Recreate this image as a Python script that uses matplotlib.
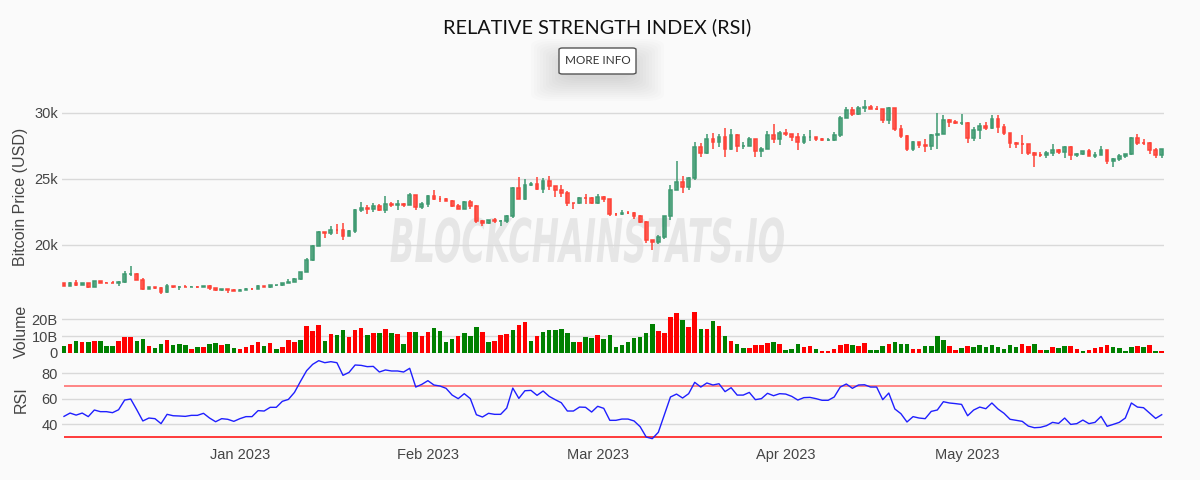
import matplotlib
matplotlib.use("Agg")
import matplotlib.pyplot as plt
import matplotlib.dates as mdates
import matplotlib.patheffects as pe
from matplotlib.patches import FancyBboxPatch
from matplotlib.transforms import Affine2D
import pandas as pd

# --- DATA (daily BTC candles, Dec 3 2022 - Jun 2 2023) ---
dates = pd.date_range("2022-12-03", "2023-06-02", freq="D")

opens = [
    17089, 16908, 17131, 16975, 17090, 16848, 17233, 17133, 17128, 17104, 17206, 17782, 17816, 17364, 16648,
    16801, 16738, 16439, 16907, 16818, 16830, 16796, 16847, 16841, 16919, 16717, 16552, 16642, 16603,
    16547, 16625, 16688, 16680, 16863, 16836, 16951, 16955, 17091, 17196, 17446, 17934, 18869, 19909, 20976,
    20880, 21170, 21161, 20688, 21086, 22676, 22777, 22721, 22934, 22636, 23117, 23032, 23079, 23031, 23775, 22840,
    23139, 23723, 23472, 23449, 23332, 22955, 22760, 23264, 22939, 21819, 21651, 21870, 21788, 21808, 22220,
    24325, 23517, 24569, 24631, 24272, 24838, 24440, 24188, 23947, 23199, 23175, 23562, 23522,
    23148, 23646, 23476, 22362, 22354, 22436, 22430, 22219, 21718, 20363, 20187, 20633, 22163, 24197, 24747,
    24375, 25052, 27423, 26966, 28038, 27767, 28175, 27307, 28333, 27493, 27494, 27994, 27139, 27268, 28348, 28033,
    28478, 28411, 28199, 27790, 28168, 28177, 28044, 27925, 27947, 28333, 29652, 30235, 29892, 30399, 30485,
    30318, 30315, 29446, 30397, 28823, 28245, 27276, 27817, 27591, 27525, 28307, 28422, 29474, 29340, 29248,
    29268, 28091, 28680, 29031, 28848, 29534, 28904, 28454, 27694, 27658, 27621, 27000, 26804, 26785, 26931,
    27192, 27036, 27399, 26833, 26890, 27129, 26754, 26851, 27225, 26334, 26476, 26720, 26868, 28085, 27745, 27702,
    27219, 26819,
]
closes = [
    16908, 17131, 16975, 17090, 16848, 17233, 17133, 17128, 17104, 17206, 17782, 17816, 17364, 16648, 16801,
    16738, 16439, 16907, 16818, 16830, 16796, 16847, 16841, 16919, 16717, 16552, 16642, 16603, 16547,
    16625, 16688, 16680, 16863, 16836, 16951, 16955, 17091, 17196, 17446, 17934, 18869, 19909, 20976, 20880,
    21170, 21161, 20688, 21086, 22676, 22777, 22721, 22934, 22636, 23117, 23032, 23079, 23031, 23775, 22840, 23139,
    23723, 23472, 23449, 23332, 22955, 22760, 23264, 22939, 21819, 21651, 21870, 21788, 21808, 22220, 24325,
    23517, 24569, 24631, 24272, 24838, 24440, 24188, 23947, 23199, 23175, 23562, 23522, 23148,
    23646, 23476, 22362, 22354, 22436, 22430, 22219, 21718, 20363, 20187, 20633, 22163, 24197, 24747, 24375,
    25052, 27423, 26966, 28038, 27767, 28175, 27307, 28333, 27493, 27494, 27994, 27139, 27268, 28348, 28033, 28478,
    28411, 28199, 27790, 28168, 28177, 28044, 27925, 27947, 28333, 29652, 30235, 29892, 30399, 30485, 30318,
    30315, 29446, 30397, 28823, 28245, 27276, 27817, 27591, 27525, 28307, 28422, 29474, 29340, 29248, 29268,
    28091, 28680, 29031, 28848, 29534, 28904, 28454, 27694, 27658, 27621, 27000, 26804, 26785, 26931, 27192,
    27036, 27399, 26833, 26890, 27129, 26754, 26851, 27225, 26334, 26476, 26720, 26868, 28085, 27745, 27702, 27219,
    26819, 27249,
]
highs = [
    17116, 17199, 17379, 17092, 17130, 17268, 17299, 17227, 17266, 17242, 18001, 18387, 17847, 17525, 16830,
    16819, 16794, 17012, 16917, 16860, 16954, 16864, 16858, 16920, 16963, 16773, 16652, 16643, 16628,
    16630, 16759, 16760, 16965, 16884, 16991, 16975, 17091, 17389, 17484, 17934, 19000, 19964, 21075, 20993,
    21438, 21599, 21650, 21163, 22692, 23282, 23056, 23165, 23127, 23722, 23237, 23435, 23166, 23919, 23789, 23255,
    23764, 24167, 23673, 23556, 23423, 23125, 23310, 23390, 23009, 21884, 21891, 22060, 21883, 22293, 24380,
    25134, 24968, 24750, 25127, 25047, 25250, 24453, 24580, 24110, 23201, 23654, 23857, 23597,
    23880, 23739, 23479, 22406, 22613, 22584, 22527, 22268, 21810, 20370, 20792, 22185, 24550, 26387, 25195,
    25166, 27787, 27725, 28390, 28473, 28440, 28868, 28754, 28374, 27788, 28194, 28016, 27460, 28620, 29159, 28640,
    28805, 28445, 28448, 28433, 28739, 28178, 28099, 28134, 28531, 29771, 30466, 30451, 30566, 31005, 30592,
    30549, 30320, 30470, 30412, 29076, 28350, 27872, 27820, 28000, 28371, 30020, 29871, 29573, 29448, 29957,
    29301, 28913, 29247, 29342, 29857, 29820, 29139, 28454, 27820, 28322, 27622, 27050, 27034, 27150, 27646,
    27266, 27465, 27466, 26978, 27150, 27265, 27045, 27466, 27225, 26613, 26916, 26893, 28193, 28432, 28029, 27838,
    27319, 27303,
]
lows = [
    16889, 16904, 16922, 16939, 16750, 16791, 17124, 17116, 17089, 16892, 17090, 17663, 17309, 16588, 16631,
    16688, 16298, 16398, 16752, 16592, 16783, 16794, 16730, 16790, 16623, 16526, 16508, 16334, 16499,
    16521, 16573, 16623, 16662, 16791, 16716, 16915, 16925, 17091, 17163, 17320, 17914, 18753, 19892, 20551,
    20733, 20862, 20407, 20671, 20920, 22512, 22339, 22531, 22559, 22406, 22877, 22659, 22906, 23009, 22629, 22756,
    22877, 23439, 23259, 23296, 22844, 22706, 22740, 22727, 21689, 21469, 21625, 21643, 21460, 21629, 22071,
    23450, 23373, 24431, 24200, 23914, 24183, 23657, 23644, 22949, 22757, 23085, 23134, 23077,
    23085, 23245, 22213, 22198, 22307, 22331, 21981, 21651, 20142, 19629, 20068, 20449, 21918, 24148, 23906,
    24194, 24955, 26667, 26923, 27249, 27392, 26667, 27215, 27054, 27241, 27480, 26687, 26678, 27264, 27720, 27583,
    28274, 27882, 27218, 27682, 27843, 27870, 27862, 27885, 27842, 28201, 29652, 29742, 29864, 30044, 30305,
    30250, 29275, 29155, 28669, 28120, 27125, 27157, 27367, 27070, 27207, 27246, 28400, 28934, 29153, 29090,
    27706, 27894, 28053, 28686, 28822, 28468, 28327, 27363, 27375, 26866, 26781, 25871, 26701, 26613, 26766,
    26889, 26600, 26415, 26701, 26843, 26706, 26558, 26843, 26150, 25872, 26343, 26619, 26804, 27590, 27563, 26866,
    26605, 26574,
]

# volume in billions USD, and bar colour as shown (g / r)
volume_b = [
    4.4, 5.4, 7.4, 6.8, 6.8, 7.4, 7.4, 4, 4.4, 7, 9.6, 9.4, 7.4, 8.2, 4, 2.8, 5.6, 7.8, 4.6, 5.4,
    5, 2.4, 3.4, 3.4, 5.4, 6, 4.8, 5.2, 3.2, 2.6, 3.8, 4.6, 6.8, 4.4, 6, 2.4, 3.4, 7.8, 6.6, 8,
    16.2, 13, 16.4, 7, 11.6, 11, 13.4, 9.4, 13.6, 15, 10.8, 12.2, 12.2, 14.4, 12, 11.6, 5.4, 12.4, 12.6, 10.2,
    12.4, 14.8, 13, 6.4, 8.2, 10, 11.8, 10.2, 15.4, 12.4, 6.6, 7.4, 10.6, 11.4, 13.6, 16.6, 18.4, 7.4, 10.4, 12.4,
    13.8, 13.8, 14.2, 12, 6.4,
    6.8, 9.8, 9, 10.8, 8.2, 11, 3.6, 5, 6.4, 8.8, 9.4, 12, 17.2, 13, 11.8, 21.2, 23.6, 19.8, 15.2, 24.4,
    14.4, 14.4, 19, 15.8, 10.2, 7.4, 5.4, 2.8, 2.8, 5, 5, 5.8, 6.8, 5.4, 2, 2.2, 5.4, 3.8, 4.2, 2.6,
    1.4, 1.2, 2.2, 5, 5.6, 4.8, 4.2, 6, 2, 2, 4.4, 5.2, 6.8, 5.6, 5.6, 2.4, 2.4, 4.4, 4.4, 10,
    7.6, 4.4, 1.6, 3, 4.4, 3.8, 5, 3.8, 4.6, 3.4, 2.2, 4.6, 3.4, 5.4, 4.4, 5.4, 1.6, 1.6, 3.8, 3.2,
    4, 4.2, 2.6, 1.4, 2, 3, 3.6, 4.8, 3.8, 3.2, 1.4, 3.8, 4, 3.8, 5, 1.4, 1.2,
]
volume_dir = list(
    "grgrgrgggr" "rrggrggrgg" "grgrggrggr" "rrrgrgrrrg" "rrrgrggrrr"
    "grgrgrgrgr" "rggggrgggr" "grrrgrrgrg" "ggggg"
    "rggrgggggggggrrrrgrrgrgrgrggrrrrgrgggrrgrrrrrgrrggg"
    "rgggrrggggrrgrggggggggrrgrgrggrrgrrrrggggr"
)

rsi = [
    46, 48.6, 47, 48.6, 45.8, 51, 49.7, 49.7, 48.9, 51.2, 58.8, 59.6, 51.2, 42.4, 44.7, 44.2, 40.3, 47.6, 46.5, 46.3,
    46, 46.8, 46.8, 48.4, 44.7, 41.8, 44.2, 43.7, 42.1, 44.2, 45.8, 45.8, 50.5, 50.2, 53.1, 53.1, 57.8, 59.3, 64.8, 73.5,
    81.8, 86.8, 89.7, 88.1, 88.9, 88.1, 78.2, 80.5, 86.3, 86, 85, 85.2, 80.8, 82.4, 81.6, 81.6, 80.8, 83.7, 69, 71.1,
    74, 70.6, 69.8, 68, 62.7, 59.9, 63.8, 59.9, 47.3, 45.5, 48.4, 47.6, 47.6, 52.5, 68.2, 60.1, 66.1, 66.4, 62.5, 65.9,
    61.7, 59.1, 56.7, 50.2, 50.2, 53.3,
    53.1, 49.4, 53.9, 52.3, 42.9, 42.9, 43.9, 43.9, 42.4, 37.9, 29.8, 28.5, 33.5, 47.3, 61.2, 63.5, 60.4, 63.8, 72.7, 69,
    72.2, 70.6, 71.6, 65.4, 68.5, 62.7, 62.7, 64.8, 59.1, 59.9, 64.1, 62.2, 63.8, 63.5, 61.7, 58.8, 60.7, 60.9, 59.9, 58.6,
    58.6, 61.2, 69, 71.4, 68, 70.6, 70.8, 69, 69, 59.1, 64.3, 51.8, 48.1, 41.6, 45.8, 44.7, 44.2, 49.9, 51, 57.5,
    56.5, 56, 55.4, 46.5, 51, 53.3, 52, 56.5, 51.8, 48.4, 43.7, 42.9, 42.1, 38.4, 37.1, 37.4, 38.7, 41.3, 40.5, 44.7,
    39.7, 40.3, 43.1, 40.3, 41.3, 46, 38.2, 39.7, 41.3, 44.7, 56.5, 53.3, 52.8, 48.6, 44.4, 47.3,
]

month_ticks = pd.to_datetime(["2023-01-01", "2023-02-01", "2023-03-01", "2023-04-01", "2023-05-01"])
month_labels = ["Jan 2023", "Feb 2023", "Mar 2023", "Apr 2023", "May 2023"]

# --- STYLE ---
BG = "#fafafa"
GRID = "#d9d9d9"
TXT = "#444444"
UP, DOWN = "#3D9970", "#FF4136"
TICKFONT = "Liberation Sans"

W, H = 1200, 480
fig = plt.figure(figsize=(W / 100, H / 100), dpi=100, facecolor=BG)


def panel(top, bottom):
    # pixel rows from the top of the picture -> figure fraction box
    return [62 / W, 1 - bottom / H, 1102 / W, (bottom - top) / H]


ax_p = fig.add_axes(panel(94.5, 300.4))
ax_v = fig.add_axes(panel(310, 353))
ax_r = fig.add_axes(panel(359, 440.6))

xnum = mdates.date2num(dates)
x0, x1 = xnum[0] - 0.33, xnum[-1] + 0.38

for ax in (ax_p, ax_v, ax_r):
    ax.set_facecolor("none")
    for s in ax.spines.values():
        s.set_visible(False)
    ax.grid(axis="y", color=GRID, linewidth=1)
    ax.set_axisbelow(True)
    ax.tick_params(length=0, labelsize=10.5, labelcolor=TXT, pad=3)
    ax.set_xlim(x0, x1)
    ax.set_xticks(mdates.date2num(month_ticks))

# candlesticks
cols = [UP if c >= o else DOWN for o, c in zip(opens, closes)]
fills = [matplotlib.colors.to_rgba(c, 0.5) for c in cols]
ax_p.vlines(xnum, lows, highs, colors=cols, linewidth=1.1, zorder=2)
ax_p.bar(xnum, [abs(c - o) for o, c in zip(opens, closes)],
         bottom=[min(o, c) for o, c in zip(opens, closes)],
         width=0.45, color=fills, edgecolor=cols, linewidth=1.1, zorder=3)
ax_p.set_ylim(15800, 31400)
ax_p.set_yticks([20000, 25000, 30000])
ax_p.set_yticklabels(["20k", "25k", "30k"], family=TICKFONT)
ax_p.set_xticklabels([])

# volume
vcols = ["#008000" if d == "g" else "#ff0000" for d in volume_dir]
ax_v.bar(xnum, volume_b, width=0.75, color=vcols, linewidth=0, zorder=2)
ax_v.set_ylim(0, 25.6)
ax_v.set_yticks([0, 10, 20])
ax_v.set_yticklabels(["0", "10B", "20B"], family=TICKFONT)
ax_v.set_xticklabels([])

# RSI
ax_r.plot(xnum, rsi, color="#1f1fff", linewidth=1, zorder=3)
ax_r.hlines(70, xnum[0], xnum[-1], color="#ff7070", linewidth=1.2, zorder=2)
ax_r.hlines(30, xnum[0], xnum[-1], color="#ff1a1a", linewidth=1.2, zorder=2)
ax_r.set_ylim(27, 91)
ax_r.set_yticks([40, 60, 80])
ax_r.set_yticklabels(["40", "60", "80"], family=TICKFONT)
ax_r.set_xticklabels(month_labels, family=TICKFONT)
ax_r.tick_params(axis="x", pad=5)

# axis titles
for label, ycen in [("Bitcoin Price (USD)", 197), ("Volume", 331), ("RSI", 400)]:
    fig.text(21 / W, 1 - ycen / H, label, rotation=90, ha="center", va="center",
             fontsize=11.5, color=TXT, family=TICKFONT)

# title and button
fig.text(597 / W, 1 - 27 / H, "RELATIVE STRENGTH INDEX (RSI)", ha="center", va="center",
         fontsize=14.3, color="#111111", family="Lato")

bx, by, bw, bh = 559, 48, 77, 26
# soft drop shadow: stacked, centred, growing translucent boxes
scx, scy = bx + bw / 2, by + bh / 2 + 9
for i in range(12):
    sw, sh = bw - 10 + 6 * i, bh - 8 + 4 * i
    fig.patches.append(FancyBboxPatch(
        ((scx - sw / 2) / W, 1 - (scy + sh / 2) / H), sw / W, sh / H,
        boxstyle="round,pad=0,rounding_size=0.015", transform=fig.transFigure,
        facecolor="#000000", edgecolor="none", alpha=0.012, zorder=1))
fig.patches.append(FancyBboxPatch(
    (bx / W, 1 - (by + bh) / H), bw / W, bh / H,
    boxstyle="round,pad=0,rounding_size=0.003", transform=fig.transFigure,
    facecolor="white", edgecolor="#555555", linewidth=1, zorder=2))
fig.text((bx + bw / 2) / W, 1 - (by + bh / 2) / H, "MORE INFO", ha="center", va="center",
         fontsize=8.5, color="#333333", family="Lato", zorder=3)


# watermark: bold italic text stretched vertically to the tall condensed look
class VStretch(pe.AbstractPathEffect):
    def __init__(self, sy, y0):
        super().__init__()
        self.sy, self.y0 = sy, y0

    def draw_path(self, renderer, gc, tpath, affine, rgbFace=None):
        t = affine + Affine2D().translate(0, -self.y0).scale(1, self.sy).translate(0, self.y0)
        renderer.draw_path(gc, tpath, t, rgbFace)


base_y = 262
fig.text(587.5 / W, 1 - base_y / H, "BLOCKCHAINSTATS.IO", ha="center", va="baseline",
         fontsize=23.3, weight="bold", style="italic", family="DejaVu Sans", color="#e6e6e6",
         zorder=-5, path_effects=[VStretch(1.86, H - base_y)])

fig.savefig("out.png", dpi=100, facecolor=BG)
